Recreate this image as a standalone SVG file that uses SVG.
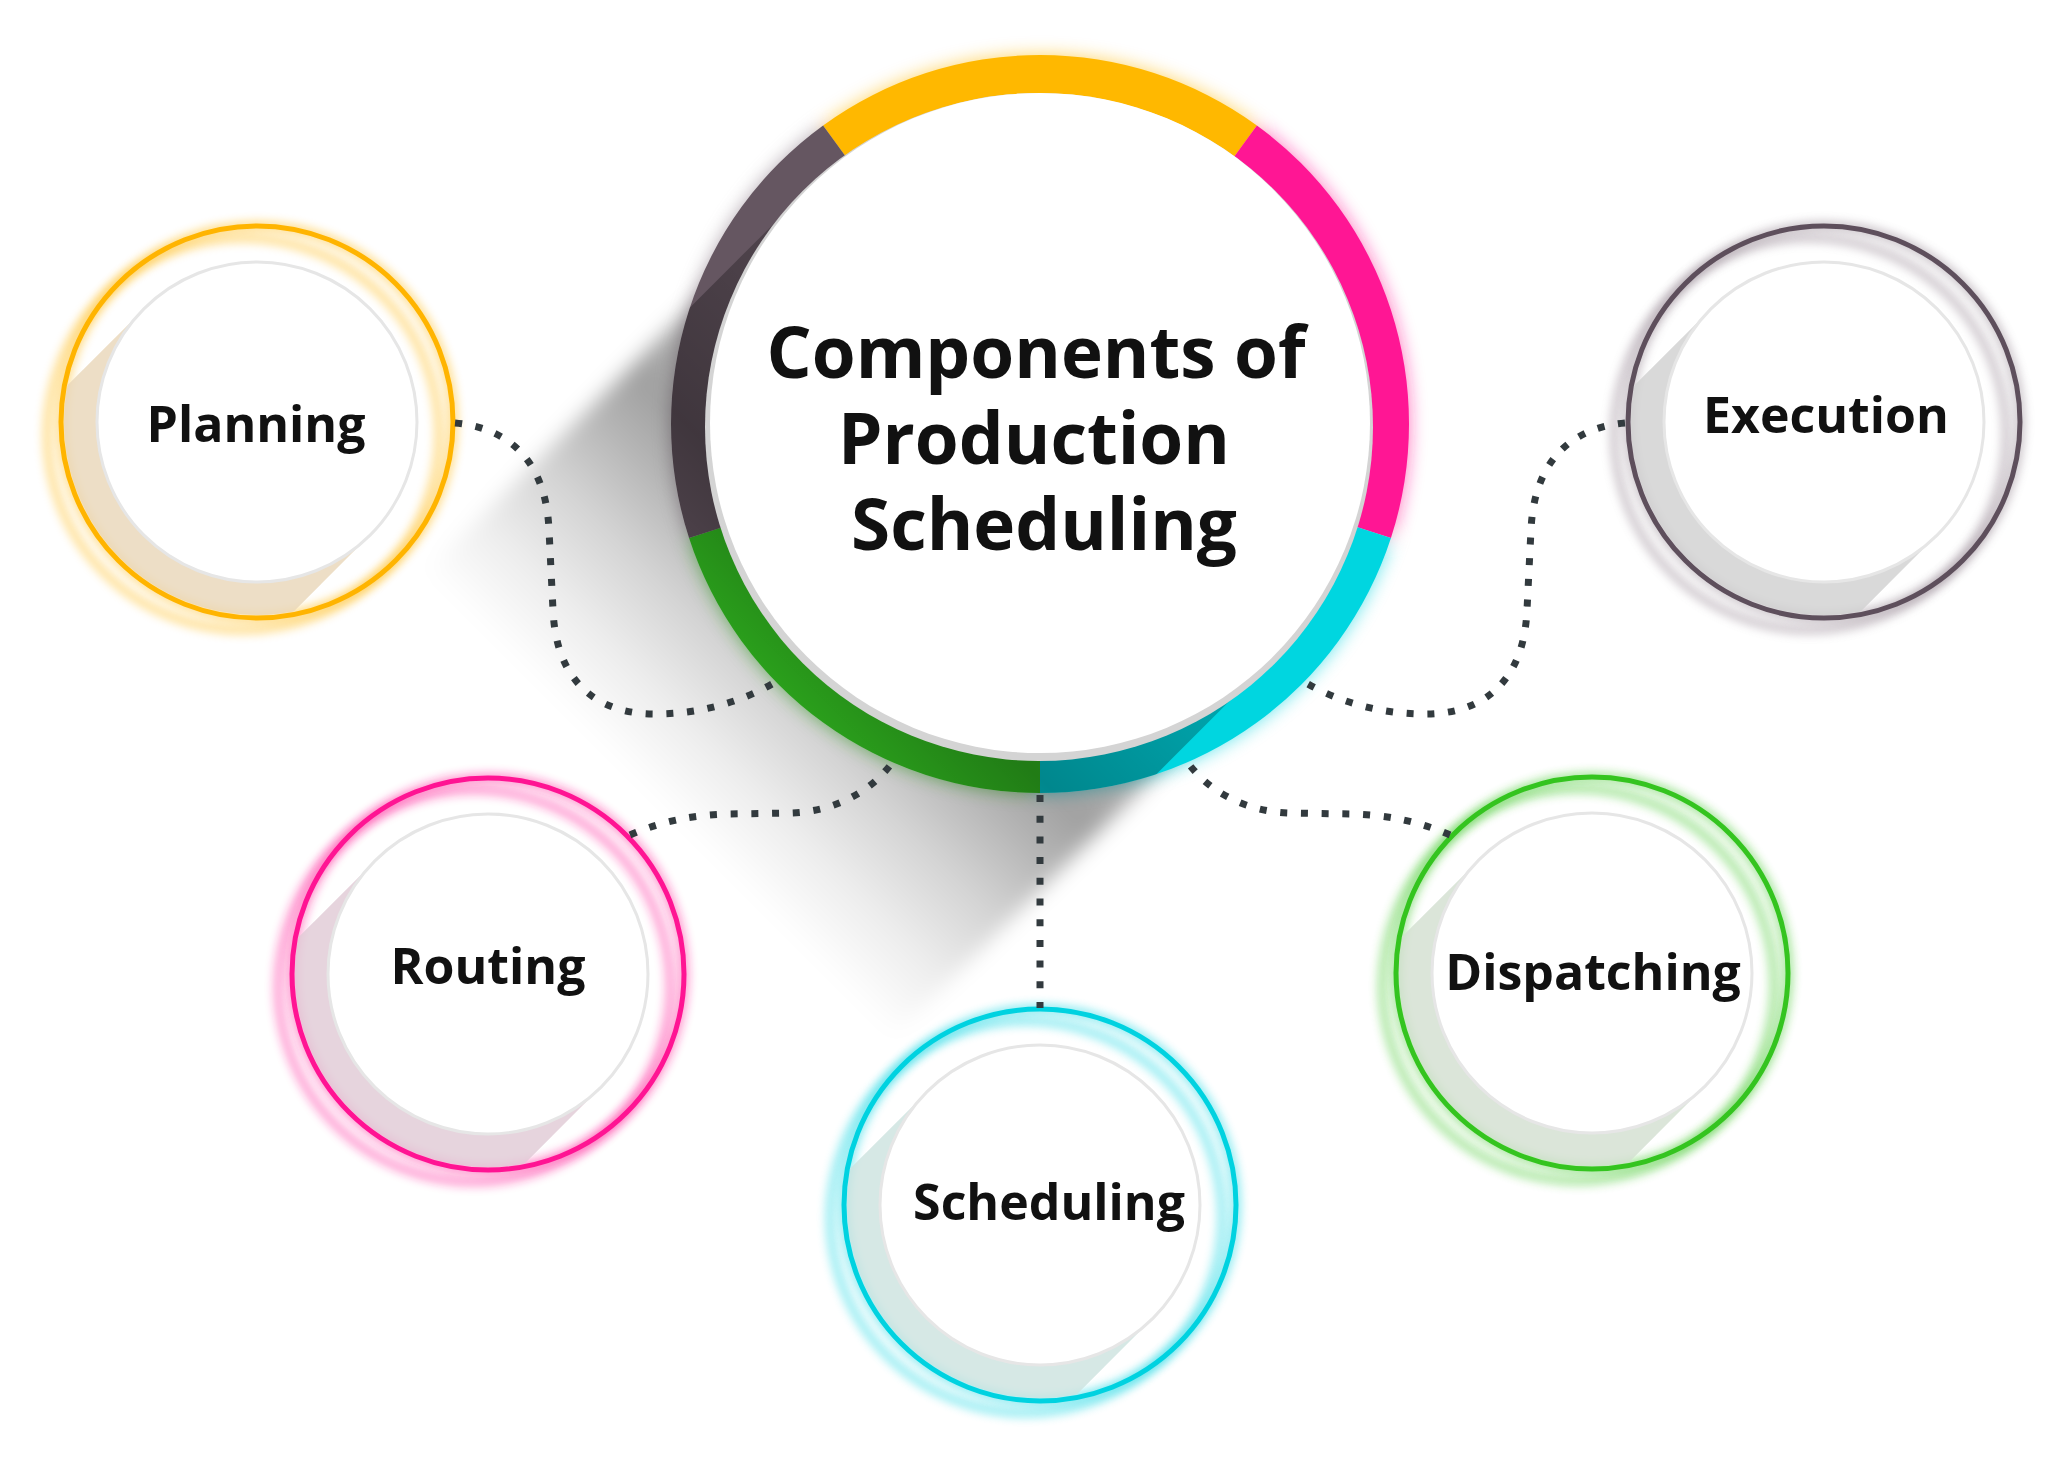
<svg xmlns="http://www.w3.org/2000/svg" width="2052" height="1467" viewBox="0 0 2052 1467">
<style>
.txt{font-family:"Open Sans","Liberation Sans",sans-serif;font-weight:700;fill:#111;text-anchor:middle}
.lbl{font-size:50px}
.title{font-size:71px}
.conn{fill:none;stroke:#323a3e;stroke-width:7;stroke-dasharray:7 13.7}
.ring{fill:none;stroke-width:5}
.ghost{fill:none;stroke-width:9;opacity:.4}
.halo{fill:none;stroke-width:10;opacity:.45}
.disc{fill:#fff;stroke:#e6e6e6;stroke-width:3}
.crescent{fill-opacity:.8}
</style>
<defs>
<filter id="blur5" x="-20%" y="-20%" width="140%" height="140%"><feGaussianBlur stdDeviation="5"/></filter>
<filter id="blur9" x="-20%" y="-20%" width="140%" height="140%"><feGaussianBlur stdDeviation="9"/></filter>
<filter id="blurShade" x="-20%" y="-20%" width="140%" height="140%"><feGaussianBlur stdDeviation="10"/></filter>
<clipPath id="inner"><circle cx="0" cy="0" r="193"/></clipPath>
<clipPath id="ringClip"><circle cx="1040" cy="424" r="369"/></clipPath>
<clipPath id="outsideRing"><path clip-rule="evenodd" d="M0,0 H2052 V1467 H0 Z M1409,424 A369,369 0 1 0 671,424 A369,369 0 1 0 1409,424 Z"/></clipPath>
<path id="smallShadow" d="M-113.1,-113.1 L113.1,113.1 L-286.9,513.1 L-513.1,286.9 Z"/>
<path id="bigShadow" d="M806.7,190.7 L1273.3,657.3 L523.3,1407.3 L56.7,940.7 Z"/>
<linearGradient id="bigShade" gradientUnits="userSpaceOnUse" x1="1040" y1="424" x2="580" y2="884">
<stop offset="0" stop-color="#000" stop-opacity="0.18"/>
<stop offset="0.385" stop-color="#000" stop-opacity="0.37"/>
<stop offset="0.46" stop-color="#000" stop-opacity="0.3"/>
<stop offset="0.585" stop-color="#000" stop-opacity="0.17"/>
<stop offset="0.71" stop-color="#000" stop-opacity="0.07"/>
<stop offset="0.83" stop-color="#000" stop-opacity="0"/>
</linearGradient>
</defs>
<rect width="2052" height="1467" fill="#fff"/>

<g id="center">
<g filter="url(#blur9)" opacity="0.6">
<path fill="#FFB800" d="M823.11,125.47 A369,369 0 0 1 1256.89,125.47 L1231.03,161.07 A325,325 0 0 0 848.97,161.07 Z"/>
<path fill="#FF1694" d="M1256.89,125.47 A369,369 0 0 1 1390.94,538.03 L1349.09,524.43 A325,325 0 0 0 1231.03,161.07 Z"/>
<path fill="#00D6E0" d="M1390.94,538.03 A369,369 0 0 1 1040,793 L1040,749 A325,325 0 0 0 1349.09,524.43 Z"/>
<path fill="#34C422" d="M1040,793 A369,369 0 0 1 689.06,538.03 L730.91,524.43 A325,325 0 0 0 1040,749 Z"/>
<path fill="#8a7a86" d="M689.06,538.03 A369,369 0 0 1 823.11,125.47 L848.97,161.07 A325,325 0 0 0 730.91,524.43 Z"/>
</g>
<path fill="#FFB800" d="M823.11,125.47 A369,369 0 0 1 1256.89,125.47 L1231.03,161.07 A325,325 0 0 0 848.97,161.07 Z"/>
<path fill="#FF1694" d="M1256.89,125.47 A369,369 0 0 1 1390.94,538.03 L1349.09,524.43 A325,325 0 0 0 1231.03,161.07 Z"/>
<path fill="#00D6E0" d="M1390.94,538.03 A369,369 0 0 1 1040,793 L1040,749 A325,325 0 0 0 1349.09,524.43 Z"/>
<path fill="#34C422" d="M1040,793 A369,369 0 0 1 689.06,538.03 L730.91,524.43 A325,325 0 0 0 1040,749 Z"/>
<path fill="#655661" d="M689.06,538.03 A369,369 0 0 1 823.11,125.47 L848.97,161.07 A325,325 0 0 0 730.91,524.43 Z"/>
<use href="#bigShadow" fill="url(#bigShade)" clip-path="url(#ringClip)"/>
<g clip-path="url(#outsideRing)"><use href="#bigShadow" fill="url(#bigShade)" filter="url(#blurShade)"/></g>
<circle cx="1039" cy="427" r="334" fill="#d4d4d4"/>
<circle cx="1040" cy="423" r="330" fill="#fff"/>
<text class="txt title" x="1036" y="378">Components of</text>
<text class="txt title" x="1034" y="464">Production</text>
<text class="txt title" x="1044" y="550">Scheduling</text>
</g>

<g id="planning" transform="translate(257,422)">
<circle class="ghost" cx="-14" cy="12" r="196" stroke="#FFB400" filter="url(#blur5)"/>
<circle class="halo" r="196" stroke="#FFB400" filter="url(#blur5)"/>
<use href="#smallShadow" class="crescent" fill="#E8D6B8" clip-path="url(#inner)"/>
<circle class="disc" r="160"/>
<circle class="ring" r="196" stroke="#FFB400"/>
<text class="txt lbl" x="-1" y="20">Planning</text>
</g>

<g id="execution" transform="translate(1824,422)">
<circle class="ghost" cx="-14" cy="12" r="196" stroke="#8a7a87" filter="url(#blur5)"/>
<circle class="halo" r="196" stroke="#8a7a87" filter="url(#blur5)"/>
<use href="#smallShadow" class="crescent" fill="#CFCFCF" clip-path="url(#inner)"/>
<circle class="disc" r="160"/>
<circle class="ring" r="196" stroke="#5E4F5C"/>
<text class="txt lbl" x="2" y="11">Execution</text>
</g>

<g id="routing" transform="translate(488,974)">
<circle class="ghost" cx="-14" cy="12" r="196" stroke="#FF1493" filter="url(#blur5)"/>
<circle class="halo" r="196" stroke="#FF1493" filter="url(#blur5)"/>
<use href="#smallShadow" class="crescent" fill="#E0C9D5" clip-path="url(#inner)"/>
<circle class="disc" r="160"/>
<circle class="ring" r="196" stroke="#FF1493"/>
<text class="txt lbl" x="0" y="10">Routing</text>
</g>

<g id="scheduling" transform="translate(1040,1205)">
<circle class="ghost" cx="-14" cy="12" r="196" stroke="#00D2E0" filter="url(#blur5)"/>
<circle class="halo" r="196" stroke="#00D2E0" filter="url(#blur5)"/>
<use href="#smallShadow" class="crescent" fill="#CCE2DF" clip-path="url(#inner)"/>
<circle class="disc" r="160"/>
<circle class="ring" r="196" stroke="#00D2E0"/>
<text class="txt lbl" x="9" y="15">Scheduling</text>
</g>

<g id="dispatching" transform="translate(1592,973)">
<circle class="ghost" cx="-14" cy="12" r="196" stroke="#34C41F" filter="url(#blur5)"/>
<circle class="halo" r="196" stroke="#34C41F" filter="url(#blur5)"/>
<use href="#smallShadow" class="crescent" fill="#D2DECF" clip-path="url(#inner)"/>
<circle class="disc" r="160"/>
<circle class="ring" r="196" stroke="#34C41F"/>
<text class="txt lbl" x="1" y="17">Dispatching</text>
</g>

<g id="connectors">
<path class="conn" d="M455,423 C510,428 546,462 549,530 L553,610 C556,680 595,714 655,714 C700,714 740,702 772,684"/>
<path class="conn" d="M630,835 C660,822 690,815 730,814 L790,813 C830,812 868,795 892,763"/>
<path class="conn" d="M1040,795 L1040,1008"/>
<path class="conn" d="M1450,835 C1420,822 1390,815 1350,814 L1290,813 C1250,812 1212,795 1188,763"/>
<path class="conn" d="M1625,423 C1570,428 1534,462 1531,530 L1527,610 C1524,680 1485,714 1425,714 C1380,714 1340,702 1308,684"/>
</g>
</svg>
